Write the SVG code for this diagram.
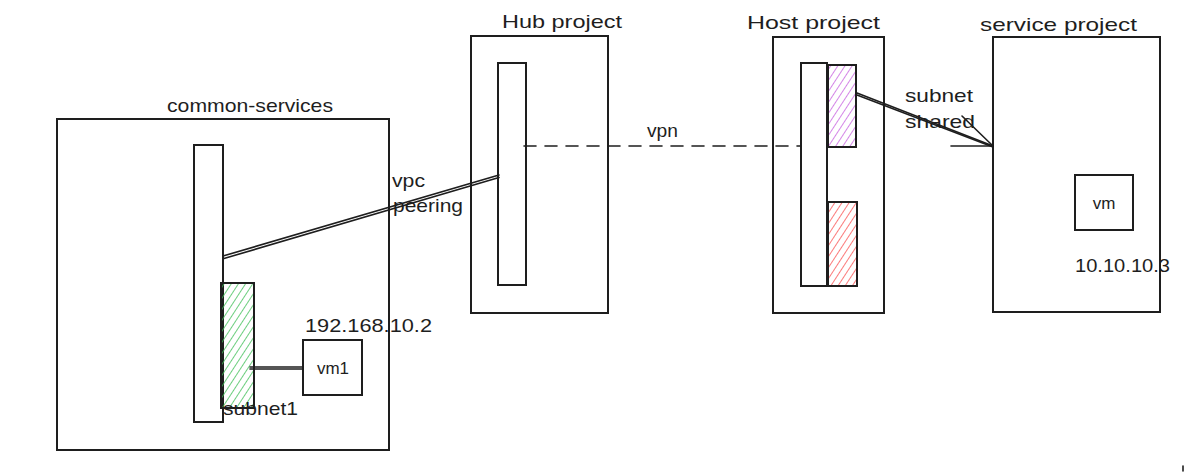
<svg xmlns="http://www.w3.org/2000/svg" width="1200" height="475" viewBox="0 0 1200 475">
<style>
.box{fill:none;stroke:#1e1e1e;stroke-width:2}
.bar{fill:#fff;stroke:#1e1e1e;stroke-width:2}
.line{fill:none;stroke:#1e1e1e;stroke-width:1.6;stroke-linecap:round}
.t{font-family:"Liberation Sans",Arial,sans-serif;fill:#1e1e1e;font-size:19px}
.s{font-size:17px}
</style>
<defs>
<pattern id="hG" width="6" height="6" patternUnits="userSpaceOnUse" patternTransform="rotate(33)">
<line x1="0" y1="0" x2="0" y2="6" stroke="#40c057" stroke-width="1.8" stroke-opacity="0.85"/>
</pattern>
<pattern id="hP" width="6" height="6" patternUnits="userSpaceOnUse" patternTransform="rotate(33)">
<line x1="0" y1="0" x2="0" y2="6" stroke="#be4bdb" stroke-width="1.8" stroke-opacity="0.75"/>
</pattern>
<pattern id="hR" width="6" height="6" patternUnits="userSpaceOnUse" patternTransform="rotate(33)">
<line x1="0" y1="0" x2="0" y2="6" stroke="#fa5252" stroke-width="1.8" stroke-opacity="0.85"/>
</pattern>
</defs>
<rect width="1200" height="475" fill="#fff"/>

<g id="common-services">
<rect class="box" x="57" y="119" width="332" height="331"/>
<text class="t" x="250" y="112" text-anchor="middle" textLength="166" lengthAdjust="spacingAndGlyphs">common-services</text>
<rect class="bar" x="194" y="145" width="29" height="277"/>
</g>
<g id="subnet1">
<rect x="221" y="283" width="33" height="125" fill="url(#hG)" stroke="#1e1e1e" stroke-width="2"/>
<text class="t" x="223" y="415" textLength="75" lengthAdjust="spacingAndGlyphs">subnet1</text>
</g>
<g id="vm1">
<rect class="box" x="303" y="340" width="59" height="55"/>
<text class="t s" x="333" y="374" text-anchor="middle">vm1</text>
<text class="t" x="305" y="332" textLength="127" lengthAdjust="spacingAndGlyphs">192.168.10.2</text>
</g>

<g id="hub-project">
<rect class="box" x="471" y="36" width="137" height="277"/>
<text class="t" x="502" y="28" textLength="120" lengthAdjust="spacingAndGlyphs">Hub project</text>
<rect class="bar" x="498" y="63" width="28" height="222"/>
</g>

<g id="host-project">
<rect class="box" x="773" y="37" width="111" height="276"/>
<text class="t" x="747" y="29" textLength="133" lengthAdjust="spacingAndGlyphs">Host project</text>
<rect class="bar" x="801" y="63" width="26" height="223"/>
<rect x="828" y="65" width="28" height="82" fill="url(#hP)" stroke="#1e1e1e" stroke-width="2"/>
<rect x="828" y="202" width="29" height="84" fill="url(#hR)" stroke="#1e1e1e" stroke-width="2"/>
</g>

<g id="service-project">
<rect class="box" x="993" y="37" width="167" height="275"/>
<text class="t" x="980" y="31" textLength="157" lengthAdjust="spacingAndGlyphs">service project</text>
</g>
<g id="vm">
<rect class="box" x="1075" y="175" width="58" height="55"/>
<text class="t s" x="1104" y="209" text-anchor="middle">vm</text>
<text class="t" x="1075" y="272" textLength="95" lengthAdjust="spacingAndGlyphs">10.10.10.3</text>
</g>

<g id="connectors">
<line class="line" x1="223" y1="256" x2="499" y2="175"/>
<line class="line" x1="224" y1="258.5" x2="499" y2="177.5"/>
<text class="t" x="392" y="187" textLength="33" lengthAdjust="spacingAndGlyphs">vpc</text>
<text class="t" x="393" y="212" textLength="70" lengthAdjust="spacingAndGlyphs">peering</text>

<line class="line" x1="250" y1="367" x2="303" y2="367"/>
<line class="line" x1="250" y1="369" x2="303" y2="369"/>

<line class="line" x1="524" y1="146" x2="800" y2="146" stroke-dasharray="12 9" stroke-width="2"/>
<text class="t" x="647" y="137" textLength="31" lengthAdjust="spacingAndGlyphs">vpn</text>

<line class="line" x1="857" y1="93" x2="993" y2="146"/>
<line class="line" x1="857" y1="95" x2="993" y2="147"/>
<line class="line" x1="993" y1="146" x2="962" y2="116"/>
<line class="line" x1="993" y1="146" x2="951" y2="146"/>
<text class="t" x="905" y="102" textLength="68" lengthAdjust="spacingAndGlyphs">subnet</text>
<text class="t" x="905" y="128" textLength="70" lengthAdjust="spacingAndGlyphs">shared</text>
</g>
<line class="line" x1="1183" y1="466" x2="1183" y2="471"/>
</svg>
